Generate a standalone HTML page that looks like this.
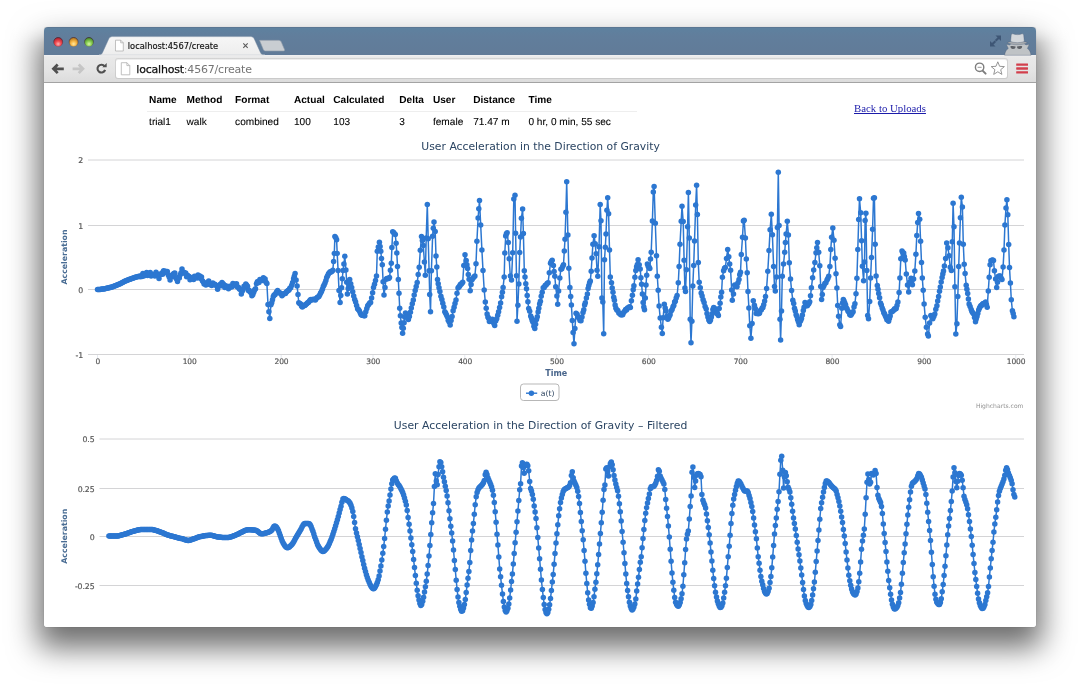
<!DOCTYPE html>
<html lang="en"><head><meta charset="utf-8"><title>localhost:4567/create</title>
<style>
html,body{margin:0;padding:0;background:#fff;}
body{width:1080px;height:688px;overflow:hidden;position:relative;font-family:"Liberation Sans", sans-serif;}
#win{position:absolute;left:44px;top:27px;width:992px;height:600px;background:#fff;border-radius:4px 4px 3px 3px;
 box-shadow:0 15px 30px 6px rgba(0,0,0,.57),0 0 1px rgba(0,0,0,.35);}
#clip{position:absolute;left:0;top:0;width:992px;height:600px;overflow:hidden;border-radius:4px 4px 3px 3px;}
#titlebar{position:absolute;left:0;top:0;width:992px;height:28px;background:linear-gradient(#5a728d 0,#5e819f 1.5px,#617e9c 8px,#617b98 100%);}
#toolbar{position:absolute;left:0;top:28px;width:992px;height:28px;background:linear-gradient(#f1f1f3 0,#e9e9e9 2px,#e4e4e4 60%,#dcdcdc 100%);border-bottom:1px solid #a3a3a3;box-sizing:border-box;}
#url{position:absolute;left:71.7px;top:3.8px;width:891.6px;height:19.4px;background:#fff;border-radius:2px;box-shadow:0 0 0 1px rgba(0,0,0,.09), inset 0 1px 0 rgba(0,0,0,.07);}
#urltext{position:absolute;left:20.6px;top:1.5px;font:11px/19px "DejaVu Sans", "Liberation Sans", sans-serif;color:#757575;white-space:nowrap;letter-spacing:-0.2px}
#urltext b{font-weight:normal;color:#111;-webkit-text-stroke:0.25px #111}
#tabtitle{position:absolute;left:83.8px;top:13.1px;font:8.3px/12px "DejaVu Sans", "Liberation Sans", sans-serif;color:#111;white-space:nowrap;-webkit-text-stroke:0.15px #111}
#page{position:absolute;left:0;top:56px;width:992px;height:544px;background:#fff;}
table{position:absolute;left:103.1px;top:7px;border-collapse:collapse;table-layout:fixed;width:490px;font:10.1px/14px "Liberation Sans", sans-serif;color:#0a0a0a;text-rendering:geometricPrecision}
th{font-weight:bold;text-align:left;padding:4.3px 0 2.7px 2px;border-bottom:1px solid #eeeeee;white-space:nowrap;color:#000}
td{padding:4.1px 0 3px 2px;white-space:nowrap;color:#000;-webkit-text-stroke:0.08px #000}
#back{position:absolute;left:810px;top:18px;font:10.8px/14px "Liberation Serif", serif;color:#1b1baa;text-decoration:underline;text-decoration-skip-ink:none;text-decoration-thickness:0.8px;white-space:nowrap}
svg text{font-family:"DejaVu Sans", "Liberation Sans", sans-serif;}
.lt{position:absolute;pointer-events:none}
#lt1{left:0;top:0;width:1080px;height:27px;background:rgba(255,255,255,.4)}
#lt2{left:0;top:27px;width:44px;height:16px;background:linear-gradient(rgba(255,255,255,.4),rgba(255,255,255,0))}
#lt3{left:1036px;top:27px;width:44px;height:16px;background:linear-gradient(rgba(255,255,255,.4),rgba(255,255,255,0))}
</style></head>
<body>
<div id="win"><div id="clip">
<div id="titlebar"></div>
<div id="toolbar"><div id="url"><div id="urltext"><b>localhost</b>:4567/create</div></div></div>

<svg width="992" height="56" viewBox="44 27 992 56" style="position:absolute;left:0;top:0;">
<defs>
<radialGradient id="rr" cx="50%" cy="72%" r="70%"><stop offset="0" stop-color="#ffb4b4"/><stop offset="0.45" stop-color="#f24a50"/><stop offset="1" stop-color="#a31f2d"/></radialGradient>
<radialGradient id="ry" cx="50%" cy="72%" r="70%"><stop offset="0" stop-color="#ffe9a0"/><stop offset="0.45" stop-color="#f7b643"/><stop offset="1" stop-color="#a9701c"/></radialGradient>
<radialGradient id="rg" cx="50%" cy="72%" r="70%"><stop offset="0" stop-color="#d8f7a8"/><stop offset="0.45" stop-color="#86cc50"/><stop offset="1" stop-color="#3f7d27"/></radialGradient>
<linearGradient id="rs" x1="0" y1="0" x2="0" y2="1"><stop offset="0" stop-color="#3a2030" stop-opacity=".75"/><stop offset="1" stop-color="#3a2030" stop-opacity=".15"/></linearGradient>
<linearGradient id="tabg" x1="0" y1="0" x2="0" y2="1"><stop offset="0" stop-color="#f6f6f6"/><stop offset="1" stop-color="#ededed"/></linearGradient>
</defs>
<!-- new tab button -->
<path d="M259.5 40.3 L279 40.3 Q280.5 40.3 281.2 41.8 L284.5 49.5 Q285 51 283.5 51 L265.5 51 Q264 51 263.3 49.5 Z" fill="#c9cdd2" stroke="#8f9aa8" stroke-width="0.6"/>
<!-- active tab -->
<path d="M99 55.2 C101 55 101.8 54 102.6 52.4 L108.6 39.2 C109.4 37.4 110.4 36.6 112.4 36.6 L250.6 36.6 C252.6 36.6 253.6 37.4 254.4 39.2 L260.4 52.4 C261.2 54 262 55 264 55.2 Z" fill="url(#tabg)" stroke="#7b8ea5" stroke-width="0.5"/>
<rect x="99" y="54.7" width="166" height="1.2" fill="#ededed"/>
<!-- traffic lights -->
<circle cx="58.2" cy="42" r="4.5" fill="url(#rr)" stroke="url(#rs)" stroke-width="0.9"/>
<circle cx="73.6" cy="42" r="4.5" fill="url(#ry)" stroke="url(#rs)" stroke-width="0.9"/>
<circle cx="89" cy="42" r="4.5" fill="url(#rg)" stroke="url(#rs)" stroke-width="0.9"/>
<!-- tab favicon (page) -->
<path d="M115.5 40.2 h5.2 l2.6 2.6 v8.2 h-7.8 z" fill="#fff" stroke="#a9a9a9" stroke-width="0.7"/>
<path d="M120.7 40.2 v2.6 h2.6" fill="none" stroke="#a9a9a9" stroke-width="0.7"/>
<!-- tab close -->
<path d="M243.3 43.4 l4.4 4.4 M247.7 43.4 l-4.4 4.4" stroke="#5a5a5a" stroke-width="1.1" fill="none"/>
<!-- fullscreen icon -->
<g fill="#3e5675">
<path d="M995.5 35.5 h5.5 v5.5 l-2 -2 l-2.6 2.6 l-1.5 -1.5 l2.6 -2.6 z"/>
<path d="M995.5 46.5 h-5.5 v-5.5 l2 2 l2.6 -2.6 l1.5 1.5 l-2.6 2.6 z"/>
</g>
<!-- incognito -->
<g stroke="#4c5f78" stroke-width="0.5" stroke-opacity=".7">
<path d="M1004.6 55.3 C1005 51.5 1006.5 49.6 1008.3 48.4 L1006.3 44.2 L1009.6 44.9 C1011.5 42 1024 42 1026 44.9 L1029.3 44.2 L1027.4 48.4 C1029.2 49.6 1030.6 51.5 1031 55.3 Z" fill="#bfc3c6"/>
<path d="M1007.4 42.6 C1010.5 40.4 1024.2 40.4 1027.4 42.6 C1024.5 45.4 1010.4 45.4 1007.4 42.6 Z" fill="#a9adb1"/>
<path d="M1010.6 41.6 L1011.2 35.2 C1011.4 33.9 1012.4 33.6 1013.5 34 C1015.5 34.8 1019.5 34.8 1021.4 34 C1022.5 33.6 1023.5 33.9 1023.7 35.2 L1024.3 41.6 C1020.5 43 1014.4 43 1010.6 41.6 Z" fill="#d3d7db"/>
</g>
<path d="M1010.4 46.3 C1012 45.9 1014.4 46 1015.6 46.6 C1015.6 48.4 1014.6 49 1013 49 C1011.4 49 1010.5 48 1010.4 46.3 Z M1017 46.6 C1018.2 46 1020.6 45.9 1022.2 46.3 C1022.1 48 1021.2 49 1019.6 49 C1018 49 1017 48.4 1017 46.6 Z" fill="#5d6167"/>
<!-- toolbar icons -->
<g fill="none" stroke-linecap="butt">
<path d="M63.8 68.8 H55 M57.7 64.5 L53.4 68.8 L57.7 73.1" stroke="#505050" stroke-width="2.7" stroke-linejoin="miter"/>
<path d="M72.6 68.8 H81.4 M78.7 64.5 L83 68.8 L78.7 73.1" stroke="#c6c6c6" stroke-width="2.7" stroke-linejoin="miter"/>
<path d="M104.6 66.4 A3.9 3.9 0 1 0 105.1 69.9" stroke="#505050" stroke-width="2.1"/>
<path d="M102.3 67.3 H106.7 V62.9 Z" fill="#505050" stroke="none"/>
</g>
<!-- url bar icons -->
<path d="M121.3 62.7 h5.6 l2.9 2.9 v9.2 h-8.5 z" fill="#fff" stroke="#b0b0b0" stroke-width="0.8"/>
<path d="M126.9 62.7 v2.9 h2.9" fill="none" stroke="#b0b0b0" stroke-width="0.8"/>
<circle cx="979.6" cy="67.3" r="4.2" fill="none" stroke="#7d7d7d" stroke-width="1.4"/>
<path d="M982.6 70.6 L985.6 73.6" stroke="#7d7d7d" stroke-width="2" stroke-linecap="round"/>
<path d="M977.6 67.3 h4" stroke="#9a9a9a" stroke-width="1"/>
<path d="M997.8 61.8 L999.6 66.3 L1004.4 66.6 L1000.7 69.7 L1001.9 74.4 L997.8 71.8 L993.7 74.4 L994.9 69.7 L991.2 66.6 L996 66.3 Z" fill="#fff" stroke="#8a8a8a" stroke-width="0.9" stroke-linejoin="round"/>
<!-- hamburger -->
<g fill="#d23f4c">
<rect x="1016.2" y="63.4" width="11.8" height="2.4" rx="0.4"/>
<rect x="1016.2" y="67.3" width="11.8" height="2.4" rx="0.4"/>
<rect x="1016.2" y="71.2" width="11.8" height="2.4" rx="0.4"/>
</g>
</svg>

<div id="tabtitle">localhost:4567/create</div>
<div id="page">
<table>
<colgroup><col style="width:37.4px"><col style="width:48.6px"><col style="width:58.9px"><col style="width:39.3px"><col style="width:66px"><col style="width:33.7px"><col style="width:40.2px"><col style="width:55.3px"><col style="width:110.6px"></colgroup>
<thead><tr><th>Name</th><th>Method</th><th>Format</th><th>Actual</th><th>Calculated</th><th>Delta</th><th>User</th><th>Distance</th><th>Time</th></tr></thead>
<tbody><tr><td>trial1</td><td>walk</td><td>combined</td><td>100</td><td>103</td><td>3</td><td>female</td><td>71.47 m</td><td>0 hr, 0 min, 55 sec</td></tr></tbody>
</table>
<a id="back" href="#">Back to Uploads</a>
</div>

<svg id="charts" width="1080" height="688" viewBox="0 0 1080 688" style="position:absolute;left:-44px;top:-27px;">
<defs>
<marker id="m" markerWidth="7" markerHeight="7" refX="3.5" refY="3.5" markerUnits="userSpaceOnUse"><circle cx="3.5" cy="3.5" r="2.75" fill="#2c77d1"/></marker>
</defs>
<g stroke="#d4d4d6" stroke-width="1">
<line x1="88" x2="1024" y1="160" y2="160"/><line x1="88" x2="1024" y1="225.5" y2="225.5"/><line x1="88" x2="1024" y1="289.5" y2="289.5"/><line x1="88" x2="1024" y1="354.5" y2="354.5"/>
<line x1="99.5" x2="1024" y1="439" y2="439"/><line x1="99.5" x2="1024" y1="488.5" y2="488.5"/><line x1="99.5" x2="1024" y1="536.5" y2="536.5"/><line x1="99.5" x2="1024" y1="585.5" y2="585.5"/>
</g>
<g stroke="#e6eaf0" stroke-width="1"><line x1="97.5" x2="97.5" y1="355" y2="358.5"/><line x1="189.3" x2="189.3" y1="355" y2="358.5"/><line x1="281.2" x2="281.2" y1="355" y2="358.5"/><line x1="373.0" x2="373.0" y1="355" y2="358.5"/><line x1="464.8" x2="464.8" y1="355" y2="358.5"/><line x1="556.6" x2="556.6" y1="355" y2="358.5"/><line x1="648.5" x2="648.5" y1="355" y2="358.5"/><line x1="740.3" x2="740.3" y1="355" y2="358.5"/><line x1="832.1" x2="832.1" y1="355" y2="358.5"/><line x1="924.0" x2="924.0" y1="355" y2="358.5"/><line x1="1015.8" x2="1015.8" y1="355" y2="358.5"/></g>
<text x="540.6" y="149.5" text-anchor="middle" font-size="10.8" fill="#2b4563">User Acceleration in the Direction of Gravity</text>
<text x="540.5" y="428.5" text-anchor="middle" font-size="10.8" textLength="293.5" fill="#2b4563">User Acceleration in the Direction of Gravity – Filtered</text>
<text transform="translate(66.7,257) rotate(-90)" text-anchor="middle" font-size="7.8" font-weight="bold" fill="#4a6d94">Acceleration</text>
<text transform="translate(66.7,536.2) rotate(-90)" text-anchor="middle" font-size="7.8" font-weight="bold" fill="#4a6d94">Acceleration</text>
<text x="83" y="163" text-anchor="end" font-size="7.8" letter-spacing="-0.1" fill="#585858" stroke="#585858" stroke-width="0.2">2</text><text x="83" y="228.5" text-anchor="end" font-size="7.8" letter-spacing="-0.1" fill="#585858" stroke="#585858" stroke-width="0.2">1</text><text x="83" y="292.5" text-anchor="end" font-size="7.8" letter-spacing="-0.1" fill="#585858" stroke="#585858" stroke-width="0.2">0</text><text x="83" y="357.5" text-anchor="end" font-size="7.8" letter-spacing="-0.1" fill="#585858" stroke="#585858" stroke-width="0.2">-1</text>
<text x="94.6" y="442" text-anchor="end" font-size="7.8" letter-spacing="-0.1" fill="#585858" stroke="#585858" stroke-width="0.2">0.5</text><text x="94.6" y="491.5" text-anchor="end" font-size="7.8" letter-spacing="-0.1" fill="#585858" stroke="#585858" stroke-width="0.2">0.25</text><text x="94.6" y="539.5" text-anchor="end" font-size="7.8" letter-spacing="-0.1" fill="#585858" stroke="#585858" stroke-width="0.2">0</text><text x="94.6" y="588.5" text-anchor="end" font-size="7.8" letter-spacing="-0.1" fill="#585858" stroke="#585858" stroke-width="0.2">-0.25</text>
<text x="97.8" y="364.1" text-anchor="middle" font-size="7.5" letter-spacing="-0.15" fill="#585858" stroke="#585858" stroke-width="0.2">0</text><text x="189.6" y="364.1" text-anchor="middle" font-size="7.5" letter-spacing="-0.15" fill="#585858" stroke="#585858" stroke-width="0.2">100</text><text x="281.5" y="364.1" text-anchor="middle" font-size="7.5" letter-spacing="-0.15" fill="#585858" stroke="#585858" stroke-width="0.2">200</text><text x="373.3" y="364.1" text-anchor="middle" font-size="7.5" letter-spacing="-0.15" fill="#585858" stroke="#585858" stroke-width="0.2">300</text><text x="465.1" y="364.1" text-anchor="middle" font-size="7.5" letter-spacing="-0.15" fill="#585858" stroke="#585858" stroke-width="0.2">400</text><text x="556.9" y="364.1" text-anchor="middle" font-size="7.5" letter-spacing="-0.15" fill="#585858" stroke="#585858" stroke-width="0.2">500</text><text x="648.8" y="364.1" text-anchor="middle" font-size="7.5" letter-spacing="-0.15" fill="#585858" stroke="#585858" stroke-width="0.2">600</text><text x="740.6" y="364.1" text-anchor="middle" font-size="7.5" letter-spacing="-0.15" fill="#585858" stroke="#585858" stroke-width="0.2">700</text><text x="832.4" y="364.1" text-anchor="middle" font-size="7.5" letter-spacing="-0.15" fill="#585858" stroke="#585858" stroke-width="0.2">800</text><text x="924.3" y="364.1" text-anchor="middle" font-size="7.5" letter-spacing="-0.15" fill="#585858" stroke="#585858" stroke-width="0.2">900</text><text x="1016.1" y="364.1" text-anchor="middle" font-size="7.5" letter-spacing="-0.15" fill="#585858" stroke="#585858" stroke-width="0.2">1000</text>
<text x="556.3" y="375.9" text-anchor="middle" font-size="8" font-weight="bold" fill="#48658b">Time</text>
<rect x="520.5" y="384" width="38.5" height="16.5" rx="3" ry="3" fill="#fff" stroke="#a4a4a4" stroke-width="0.8"/>
<line x1="526" x2="537.2" y1="393.2" y2="393.2" stroke="#2c77d1" stroke-width="1.4"/>
<circle cx="531.4" cy="393.2" r="2.7" fill="#2c77d1"/>
<text x="540.8" y="396" font-size="7.7" fill="#2f4560">a(t)</text>
<text x="1023.5" y="408" text-anchor="end" font-size="6.05" fill="#909090">Highcharts.com</text>
<polyline points="97.5,289.6 98.2,289.6 99.1,289.5 100.1,289.4 101,289.3 102,289.1 102.9,289 103.9,288.9 104.8,288.8 105.8,288.6 106.7,288.3 107.6,288.1 108.5,287.9 109.5,287.6 110.4,287.4 111.3,287.1 112.3,286.9 113.2,286.5 114.1,286.2 115,285.8 116,285.4 116.9,285 117.8,284.7 118.7,284.3 119.7,283.9 120.6,283.5 121.5,283 122.5,282.5 123.4,282.1 124.3,281.6 125.2,281.1 126.2,280.7 127.1,280.2 128,279.9 128.9,279.6 129.9,279.2 130.8,278.9 131.7,278.6 132.7,278.2 133.6,277.9 134.5,277.6 135.4,277.3 136.4,277 137.3,276.8 138.2,276.5 139.1,276.3 140.1,276.7 141,275.8 141.9,276.4 142.9,273.4 143.8,276 144.7,274.8 145.6,275 146.6,272.5 147.5,275.4 148.4,273.7 149.3,273.8 150.2,272.4 151.1,276.1 152,274.6 152.9,275.3 153.8,274.5 154.9,276.1 156,272.2 157,273.9 158,274.4 159,278.4 159.9,274.5 160.8,274.4 161.8,273 162.7,274.2 163.6,270.8 164.6,271.8 165.5,271.2 166.4,272.5 167.3,271.4 168.3,275.1 169.2,276.9 170.1,279.9 171,275.5 172,276.4 172.9,274.5 173.8,273.6 174.8,273 175.7,277.8 176.6,279.1 177.5,281.4 178.4,277.2 179.3,278.1 180.2,274.8 181.1,272.8 182,269.1 182.9,273.1 183.8,272.2 184.8,273.2 185.7,273.1 186.6,276.7 187.4,275.2 188.3,276.3 189.2,276.5 190,279.7 190.9,277.8 191.8,278.2 192.7,277.7 193.6,279.5 194.5,276.3 195.3,277.2 196.2,276.9 197.1,278.1 198,274.9 198.9,276.2 199.8,275.9 200.7,278.4 201.5,277.1 202.4,280.7 203.3,282 204.1,283.9 205,283 205.9,284.9 206.8,283.8 207.8,283.4 208.7,280.9 209.7,284.6 210.7,284.6 211.7,285.5 212.8,282.9 213.9,284.6 214.8,284.2 215.7,285.2 216.7,285.5 217.6,289.2 218.5,286.3 219.4,285.5 220.3,284.3 221.2,285.7 222,282.4 223,283.8 223.9,284.7 224.8,287.5 225.8,285.8 226.7,286.9 227.6,287.3 228.5,288.8 229.5,286.3 230.3,287.1 231.2,286.7 232.1,286.8 232.9,283.6 233.8,284.9 234.7,284.3 235.6,285.3 236.5,283.8 237.4,286.9 238.4,287.3 239.4,289.1 240.3,289.4 241.3,293.9 242.2,291.3 243.1,289.2 244,286.2 244.9,287 245.8,284 246.6,285.3 247.5,286.3 248.3,290.4 249.2,290.3 250,291.8 251,292.7 251.9,295.7 252.9,294.5 253.8,292.1 254.7,289.7 255.5,288.7 256.4,283.7 257.3,281.7 258.1,281.8 259,282.4 259.9,279.5 260.8,280.1 261.6,280.2 262.5,280.4 263.4,277.8 264.2,279.1 265.1,279.1 266,282.3 266.9,283.6 268,304.5 268.9,311.7 269.8,318.6 270.9,304.8 271.7,302.8 272.5,299.7 273.3,296.5 274.1,295 275,294.8 275.9,293.2 276.7,291.8 277.6,290.5 278.5,292.2 279.4,292.5 280.2,293.2 281.1,294.1 282,295.7 282.8,294.4 283.7,293.8 284.6,293.4 285.5,293.4 286.3,291.9 287.2,291.2 288.1,290.6 289,290.1 289.8,288.3 290.7,287.8 291.7,285.2 292.6,282.4 293.6,278.7 294.3,276.3 295.1,273.6 296.1,280.1 297.1,285.9 298,294.6 298.8,302.7 299.7,303.5 300.6,304.1 301.5,306 302.3,307 303.2,306.1 304.1,305.2 304.9,305.5 305.8,304.6 306.7,303.7 307.6,302.7 308.4,302.6 309.3,301.3 310.2,300.1 311,299.4 311.9,300 312.8,299.4 313.7,299.2 314.5,299.6 315.4,300 316.3,298.4 317.2,297.5 318,297.1 318.9,296.4 319.8,294.8 320.6,293 321.5,291.4 322.4,289.3 323.3,286.6 324.1,285 325,283 325.9,280.4 326.7,277.6 327.6,275.8 328.5,273.7 329.4,272.7 330.2,271.8 331.1,271.9 332,271.3 332.8,270.3 333.6,261.4 334.3,253.4 334.9,236.4 335.8,237.8 336.6,239.7 337.2,253.4 338.1,270.5 339,290.5 340.1,302.4 340.8,295.6 341.6,287.8 342.3,278.8 343,270.5 343.9,263.9 344.8,256.3 345.9,270.1 346.7,282.3 347.4,294 348.2,288.6 348.9,283.8 349.7,279.5 350.7,283.7 351.7,287.5 352.7,291.7 353.7,296 354.7,299.6 355.6,302 356.6,305.4 357.6,308.7 358.4,309.6 359.3,310.8 360.2,312.8 361,314.4 361.9,315.3 362.9,315.2 363.9,315.8 364.8,315.8 365.8,311.8 366.8,308.6 367.7,305.7 368.7,304.5 369.7,303 370.6,302.4 371.6,298 372.6,292.8 373.5,287.5 374.5,284.2 375.5,280.5 376.5,276.1 377.3,251.2 378.3,247.1 379.4,242.2 380.1,246.5 380.8,251.3 381.5,258.5 382.3,264.8 383.1,281.8 384,295 385,287.6 386,279.2 386.9,278.5 387.8,278.4 388.7,278.6 389.5,277.6 390.4,270.2 391.3,263.3 391.9,247.6 392.7,231.8 393.6,232.5 394.5,233.7 395.3,234.5 396.1,243.2 396.8,252.9 397.5,266.4 398.3,279.4 399,293.2 399.7,308.3 400.4,315.8 401.2,322.9 401.9,327.4 402.6,333.2 403.3,328.2 404.1,322.7 404.8,317.3 405.5,313 406.5,315.2 407.5,317.3 408.4,319.5 409.4,316.5 410.4,312.2 411.3,308 412.3,303.7 413.3,300 414.2,295.1 415.2,290.5 416.2,286.4 417.2,282.6 418.2,274.6 419.2,267.3 420.3,250.2 421.5,236.6 422.4,240.6 423.3,245.6 424.4,261.9 425.3,275.2 426.2,238 427.3,204.4 428.2,238.7 429.1,270.7 429.7,294.6 430.5,311.8 431.4,270.7 432.6,236.3 433.3,228.3 434,221.9 435.2,231.4 436,255.9 436.8,267 437.5,279.6 438.2,283.7 439,287.8 439.9,291.4 440.9,296.2 441.9,299.6 442.8,303.2 443.8,307 444.8,311.7 445.6,313 446.4,314.8 447.3,316.8 448.2,320.3 449.2,322.1 450.2,324.9 451.1,320.4 452.1,316.4 453.1,310.7 454.1,307.2 455,303.5 456,300 457,293.2 458,287.9 458.8,287.1 459.6,286.3 460.3,284.4 461.1,284.2 461.9,283.3 462.7,282.3 463.8,265.5 465,254.8 466.2,260.5 466.9,264.7 467.6,268.4 468.3,274.5 469.1,279.3 470.2,290.8 471.1,284.5 472,279.7 472.9,278.2 473.9,277.1 474.9,275.9 476,263.8 476.9,241.2 478.1,218 478.8,208.8 479.5,200.5 480.7,225.1 481.9,250 483,270.4 484.2,290 485.3,302 486.2,308.2 487.1,314.1 487.9,317 488.6,318.3 489.4,321.4 490.4,321 491.4,320.8 492.3,319.2 493.1,321.8 493.9,323.5 494.7,325.4 495.7,321.1 496.7,318.8 497.7,315.2 498.6,311.8 499.6,307.6 500.6,302.9 501.6,296.7 502.4,292.3 503.1,287.4 504.2,276.9 504.8,253 505.7,236.1 506.4,233.7 507.2,232.8 508.3,242.6 509.2,258.7 510.3,276 511.5,279.9 512.7,252.7 513.8,199.1 515,195.3 515.6,233.3 516.5,275.8 517,321.3 517.9,305.3 518.8,284.1 519.7,252.4 520.5,237.1 521.4,218.2 522.6,209 523.4,233.4 524.3,270.7 525,277.1 525.8,283.8 526.5,288.7 527.2,295.6 527.9,301.8 528.7,308.4 529.7,311.2 530.7,316 531.5,318 532.2,320.4 533,322.2 533.9,326.3 534.8,328.5 535.6,324.2 536.5,319.4 537.3,316.7 538.1,311.9 538.8,308.2 539.6,304.1 540.4,301.2 541.2,296.2 542.2,292.2 543.2,287.7 544.2,287.6 545.1,285.4 546.1,285 547.1,283.5 548.1,282.7 549.3,272.7 550.5,263.3 551.3,261.5 552.2,260.2 553.4,265.4 554.1,271.5 554.8,276.3 555.7,286.8 556.9,295.9 557.7,304.3 558.6,290.9 559.8,277.9 560.9,269.2 561.8,268.7 562.7,266.4 563.5,264.7 564.3,251 565,239.2 565.9,212.2 566.7,181.8 567.9,235.1 568.8,268.3 569.9,287.6 570.7,296.6 571.4,305 572.3,320.6 573.1,332.5 574,343.7 574.9,328.4 576,313.3 577.1,314.2 578.1,317 579.1,318.3 580,320.5 581,320.7 582,317.1 583,312.6 583.8,309.7 584.6,305.1 585.3,302.7 586.4,298.1 587.4,294.1 588.1,288.6 588.8,285.4 589.6,282.8 590.3,280.9 591.2,271.2 592,258 592.9,244.3 594.1,235.7 595.2,243.7 596.1,253.7 597,270.3 597.8,276.3 599,246.7 600.2,204.4 601,220.7 601.9,298.1 602.8,302.1 603.7,333.7 604.5,259.8 605.3,247.2 606,233.9 606.9,210.2 607.7,197.8 608.6,213.8 609.5,250 610.3,276.9 611.5,282.8 612.2,288.1 613,292.2 613.7,297.2 614.4,300.2 615.1,304.9 615.9,308.3 616.8,310.1 617.8,310.4 618.8,313.1 619.7,313.6 620.7,314.8 621.7,314.8 622.7,314.7 623.6,312.5 624.6,311.3 625.6,309.5 626.5,309.9 627.5,308.1 628.5,307.8 629.4,306.7 630.4,307.6 631.4,300.7 632.4,295.2 633.2,289.7 633.9,285.8 634.9,277.3 635.8,270.5 636.6,266.8 637.4,264.4 638.1,259.7 639.2,264.7 640.2,268.9 640.9,277.7 641.6,284.3 642.4,293.9 643.1,302.4 643.8,307.1 644.5,309.8 645.3,298.1 646,285 646.7,275.2 647.4,263.9 648.2,266.3 649,267 649.8,268.4 650.5,259.1 651.2,252.2 652.4,221 653.3,192.1 654.1,186.4 655.3,223.2 656.5,255.8 657.3,276.3 658.2,290.3 659.1,306.1 660.2,318.1 661.4,327.2 662.3,333.4 663.1,317.8 664.3,304.3 665.2,308 666,310.9 666.9,316.3 667.8,319.3 668.6,318 669.3,315.9 670.1,314.7 671.1,310.9 672.1,309.4 673,306.8 673.8,305.4 674.6,302.1 675.3,301.3 676.2,298.1 677.1,295.6 678.3,282.7 679.1,266.6 680,244.3 681.2,221.3 682,206.3 683.2,221.6 684.1,260.2 684.9,288 685.5,291.6 686.4,269.7 687.6,226.7 688.4,192.6 689.3,237.9 690.2,319.2 691,342.8 691.9,321.3 692.8,286 693.7,265.4 694.5,240.9 695.7,205.1 696.6,185.3 697.4,214.5 698.3,262.6 699.2,282.2 700.3,287.8 701.2,292.9 702.1,295.9 703.1,299.7 704.1,302.4 705.1,306.6 706.2,308.9 707,313.6 707.9,317 708.8,320 709.7,321.4 710.5,320 711.4,317 712.2,313.8 712.9,309.4 713.7,307.4 714.5,308.2 715.3,309.8 716,310.5 716.8,313.3 717.6,313.9 718.4,315.6 719.2,308.4 720.1,303.2 720.8,297.1 721.6,292.3 722.4,277.3 723.6,270.7 724.5,268.3 725.3,267.6 726.5,258.6 727.7,249.4 728.8,256.8 729.7,264 730.6,270.3 731.7,290 732.3,300.3 733.5,293.9 734.7,285 735.4,286 736.2,285.2 737,286.7 738,282.8 739,279.6 739.7,274.8 740.5,272.3 741.3,254.5 742.5,237.3 743.4,220.9 744.2,220.2 745.4,237.9 746.3,259 747.2,272.7 748,291.5 748.9,308.1 749.8,325.7 750.9,338.2 752.1,323.5 753.3,300.7 754.4,305.3 755.3,308.6 756.2,313.4 756.9,312.7 757.7,313.6 758.5,313.8 759.5,313.3 760.4,310.6 761.4,309.7 762.2,308.1 762.9,307.4 763.7,304.7 764.6,301.1 765.5,296.6 766.6,288.4 767.8,271.2 769,250.4 770.1,229.8 771.3,214.2 772.4,234.8 773.6,266.5 774.5,286.5 775.3,291 776.5,277 777.4,227.4 778.3,172.2 779.1,225.5 780,319.3 780.6,340 781.5,311.1 782.3,276.3 783.5,264.1 784.7,252.3 785.4,242.6 786.1,234.1 787.3,221.3 788.4,234.9 789.3,262.8 790.5,279.1 791.6,290.6 792.8,300.2 793.7,303.4 794.5,308.2 795.3,311.1 796.1,314.7 796.9,316.4 797.6,319.5 798.4,321.8 799.2,324.7 800,321.6 800.7,320.6 801.5,318.5 802.4,315.1 803.3,310.4 804.1,307.2 805,302.5 805.8,303.6 806.6,303.7 807.3,305.8 808.1,304.4 808.9,303.5 809.7,301.8 810.5,295.8 811.4,287.8 812.6,277.7 813.7,270 814.9,262.4 816,252.8 816.8,247.8 817.5,242.5 818.7,252.3 819.8,265.8 820.7,286.4 821.6,299.4 822.3,294.4 823,287.4 823.9,285.7 824.8,283.5 825.9,282.7 827,280.1 827.8,278.5 828.7,276.3 829.9,266.6 830.8,249.5 831.6,237.2 832.8,227.9 834,240.3 835.1,258.2 836,273.7 836.9,288 837.7,305.5 838.6,316.3 839.8,324.7 840.6,326.6 841.8,308.3 842.5,303 843.3,299.5 844,301.1 844.8,303.1 845.6,304.9 846.4,307.9 847.1,309.1 847.9,311 848.9,312.3 849.8,314.7 850.8,315.2 851.6,313.9 852.4,312.5 853.1,311.8 854,307.1 854.9,303.8 856,293.7 856.9,278.3 857.8,249.6 858.7,219.6 859.5,198.8 860.7,212.7 861.6,240.8 862.4,266.2 863.6,280.8 864.5,262 865.1,220.4 865.9,213.2 866.8,270.6 867.7,315.6 868.5,318.7 869.7,301.4 870.6,277.9 871.5,257.4 872.6,229.3 873.5,198.3 874.4,197.8 875.2,244.2 876.1,275.9 877.3,285.6 878,289.3 878.7,293.5 879.6,297.8 880.5,303 881.3,305.1 882.2,308.1 883,310.1 883.8,312.7 884.5,313.7 885.3,315.7 886.1,317.6 886.9,319.8 887.7,319.8 888.6,321.3 889.4,318.6 890.2,315.9 890.9,312.1 891.9,311.7 892.9,310.9 893.8,309.9 894.6,308.7 895.4,308.9 896.2,308.5 897,305.4 897.9,301.9 899.1,292.6 899.9,277.9 900.8,258.8 902,251.1 902.8,252.7 903.7,253.1 904.4,256.5 905.2,260 906.3,273.9 907.5,285 908.7,292 909.8,281.9 911,278.3 911.7,281.2 912.4,284.7 913.6,279.1 914.8,271 915.9,254.2 916.8,235.4 917.7,222.6 918.5,213.6 919.7,219.2 920.6,241.3 921.5,262.5 922.3,278 923.2,290.3 924.1,303.9 925.2,317.3 926.4,327.3 927.6,333.9 928.4,336 929.6,323.1 930.8,315.5 931.8,316.5 932.8,318.7 933.8,316.5 934.8,313.9 935.8,309.3 936.9,305.7 937.7,301.1 938.6,296.4 939.5,291.3 940.3,286.9 941.2,282.1 942.1,277.4 942.8,274 943.5,270.9 944.4,266 945.6,258.5 946.7,242.9 947.9,247.7 949.1,255.7 950.2,267.3 951.4,270.6 952.3,241.8 953.1,203.3 954,226.7 954.9,286.7 955.8,334.1 956.9,323.8 957.8,296.6 958.7,266.4 959.5,243 960.4,217.7 961.3,197.3 962.4,206.9 963.3,244.3 964.2,264.2 965.1,273.6 966.2,285.3 966.9,289.2 967.7,293.4 968.4,299.1 969.1,304.1 970.1,306.5 971.2,309.5 971.9,311.6 972.7,312.7 973.5,313.7 974.5,317.6 975.5,321.8 976.2,319.1 977,316.6 977.8,313.4 978.7,310.1 979.5,308.1 980.3,306.5 981,305.6 981.8,305.2 982.6,304.1 983.4,303.6 984.1,303.7 984.9,303.1 985.7,302.1 986.4,304.5 987.2,307.2 988.3,290.9 989.2,277.3 990.1,264.7 990.9,260.7 991.8,260.2 992.7,259.9 993.5,260.4 994.4,270.8 995.6,278.9 996.7,287.6 997.5,282.3 998.2,276.6 999.2,275.9 1000.2,276.1 1001.1,278.1 1002,279.4 1003.1,267.1 1004,250.1 1004.9,224.9 1006,208 1006.9,199.7 1007.8,214.8 1008.7,244.6 1009.5,267.5 1010.4,283.1 1011.3,299.8 1012.4,310.8 1013.2,313.6 1013.9,316.7" fill="none" stroke="#2c77d1" stroke-width="1.5" stroke-linejoin="round" marker-start="url(#m)" marker-mid="url(#m)" marker-end="url(#m)"/>
<polyline points="108.9,536.1 109.8,536.1 110.7,536.1 111.6,536.1 112.5,536.1 113.4,536.1 114.3,536.1 115.2,536.1 116.2,536.1 117.1,536.1 118,536 118.9,535.8 119.8,535.6 120.7,535.3 121.6,535.1 122.5,534.8 123.4,534.5 124.3,534.2 125.2,534 126.1,533.7 127,533.4 127.9,533.1 128.8,532.7 129.8,532.4 130.7,532.1 131.6,531.8 132.5,531.5 133.4,531.2 134.3,531 135.2,530.7 136.1,530.5 137,530.3 137.9,530 138.8,529.8 139.7,529.7 140.6,529.5 141.5,529.4 142.5,529.4 143.4,529.4 144.3,529.4 145.2,529.4 146.1,529.4 147,529.4 147.9,529.4 148.8,529.4 149.7,529.4 150.6,529.4 151.5,529.4 152.4,529.5 153.3,529.7 154.2,529.9 155.1,530.2 156.1,530.4 157,530.8 157.9,531.1 158.8,531.4 159.7,531.7 160.6,532 161.5,532.4 162.4,532.7 163.3,533.1 164.2,533.5 165.1,533.9 166,534.3 166.9,534.7 167.8,535 168.7,535.3 169.7,535.6 170.6,535.9 171.5,536.1 172.4,536.3 173.3,536.6 174.2,536.8 175.1,537 176,537.3 176.9,537.5 177.8,537.7 178.7,537.9 179.6,538.2 180.5,538.4 181.4,538.6 182.4,538.8 183.3,539.1 184.2,539.4 185.1,539.7 186,540 186.9,540.3 187.8,540.4 188.7,540.4 189.6,540.3 190.5,540 191.4,539.7 192.3,539.3 193.2,539 194.1,538.7 195,538.4 196,538 196.9,537.7 197.8,537.3 198.7,537.1 199.6,536.8 200.5,536.6 201.4,536.4 202.3,536.2 203.2,536 204.1,535.8 205,535.7 205.9,535.6 206.8,535.5 207.7,535.4 208.6,535.3 209.6,535.3 210.5,535.2 211.4,535.3 212.3,535.4 213.2,535.7 214.1,535.9 215,536.3 215.9,536.5 216.8,536.8 217.7,537 218.6,537.1 219.5,537.1 220.4,537.2 221.3,537.3 222.2,537.4 223.2,537.4 224.1,537.5 225,537.5 225.9,537.6 226.8,537.6 227.7,537.5 228.6,537.4 229.5,537.2 230.4,537 231.3,536.7 232.2,536.4 233.1,536 234,535.7 234.9,535.4 235.9,535 236.8,534.6 237.7,534.2 238.6,533.7 239.5,533.2 240.4,532.7 241.3,532.3 242.2,531.9 243.1,531.4 244,531 244.9,530.6 245.8,530.2 246.7,529.9 247.6,529.8 248.5,529.7 249.5,529.7 250.4,529.8 251.3,529.8 252.2,529.9 253.1,530 254,530.1 254.9,530.2 255.8,530.3 256.7,530.7 257.6,531.3 258.5,532.1 259.4,532.8 260.3,533.4 261.2,533.8 262.1,533.8 263.1,533.7 264,533.5 264.9,533.3 265.8,533.1 266.7,532.8 267.6,532.5 268.5,532.2 269.4,531.8 270.3,531.3 271.2,530.7 272.1,529.8 273,528 273.9,526.4 274.8,526 275.8,526.6 276.7,527.6 277.6,528.9 278.5,530.8 279.4,533.3 280.3,535.8 281.2,538.2 282.1,540.7 283,542.8 283.9,544.3 284.8,545.7 285.7,546.8 286.6,547.6 287.5,547.7 288.4,547.4 289.4,546.9 290.3,546.1 291.2,545.3 292.1,544.3 293,543 293.9,541.4 294.8,539.7 295.7,538.1 296.6,536.5 297.5,535 298.4,533.5 299.3,532 300.2,530.5 301.1,528.9 302,527 303,525.3 303.9,524.1 304.8,523.6 305.7,523.6 306.6,523.6 307.5,523.6 308.4,523.6 309.3,523.7 310.2,524.7 311.1,526.6 312,529 312.9,531.2 313.8,534 314.7,536.9 315.7,539.5 316.6,542.1 317.5,544.4 318.4,546.3 319.3,547.7 320.2,549.1 321.1,550.3 322,551.1 322.9,551.5 323.8,551.3 324.7,550.6 325.6,549.6 326.5,548.5 327.4,547.2 328.3,545.7 329.3,543.7 330.2,541.6 331.1,539.4 332,537 332.9,534.3 333.8,531.5 334.7,528.7 335.6,525.8 336.5,522.8 337.4,519.8 338.3,516.6 339.2,513.1 340.1,509.6 341,506.2 341.9,502.3 342.9,499 343.8,498.4 344.7,498.7 345.6,499.3 346.5,499.9 347.4,500.5 348.3,501.1 349.2,502 350.1,503.2 351,505.2 351.9,507.9 352.8,511.6 353.7,516.6 354.6,522.6 355.5,528.7 356.5,533 357.4,536.7 358.3,540.6 359.2,544.6 360.1,548.5 361,552.6 361.9,556.7 362.8,560.6 363.7,564.5 364.6,568.2 365.5,571.6 366.4,574.7 367.3,577.6 368.2,580.1 369.2,582.3 370.1,584.4 371,586.3 371.9,587.5 372.8,588.4 373.7,588.7 374.6,587.9 375.5,586.4 376.4,584.7 377.3,582.5 378.2,579.8 379.1,575.9 380,571 380.9,565.9 381.8,560.1 382.8,553.3 383.7,546.6 384.6,538.6 385.5,529.3 386.4,520.3 387.3,512 388.2,506 389.1,501 390,495 390.9,488.9 391.8,483.7 392.7,480.1 393.6,478.9 394.5,478.1 395.4,478.3 396.4,481 397.3,483 398.2,484.4 399.1,485.6 400,487.1 400.9,488.7 401.8,490.5 402.7,492.6 403.6,495.1 404.5,498.1 405.4,501.3 406.3,505 407.2,510.4 408.1,517.5 409.1,524.3 410,531.1 410.9,537.9 411.8,544.7 412.7,551.6 413.6,559.6 414.5,567.6 415.4,575.6 416.3,583.3 417.2,590.3 418.1,595.8 419,600 419.9,603.5 420.8,605.6 421.7,604.4 422.7,601.2 423.6,597.2 424.5,592 425.4,586.8 426.3,581.3 427.2,574.1 428.1,565.5 429,556.1 429.9,545.5 430.8,534.5 431.7,522.7 432.6,512.8 433.5,503.5 434.4,486.6 435.3,473.8 436.3,480.9 437.2,484.7 438.1,474.4 439,466.7 439.9,461.8 440.8,462.6 441.7,466.7 442.6,471.7 443.5,477.3 444.4,481.8 445.3,486.2 446.2,490.6 447.1,496.1 448,502.8 449,510.7 449.9,518.8 450.8,526.2 451.7,533 452.6,541 453.5,550 454.4,560.5 455.3,569.6 456.2,580.2 457.1,589.4 458,596.9 458.9,602.5 459.8,606.2 460.7,609.3 461.6,611.3 462.6,610.7 463.5,608 464.4,604.4 465.3,599.4 466.2,592.5 467.1,585 468,578.2 468.9,571.4 469.8,562.5 470.7,550.4 471.6,539.9 472.5,531 473.4,523.4 474.3,514.2 475.2,504.7 476.2,496.8 477.1,492.6 478,489.7 478.9,487.9 479.8,486.9 480.7,486.2 481.6,485.3 482.5,484.2 483.4,482.8 484.3,480.4 485.2,474.8 486.1,472.2 487,474.5 487.9,477.7 488.8,480 489.8,482.2 490.7,484.6 491.6,487.1 492.5,490.2 493.4,495.3 494.3,502.6 495.2,511.8 496.1,522.3 497,534.3 497.9,545 498.8,557.1 499.7,568.9 500.6,576.7 501.5,585.3 502.5,594 503.4,601.4 504.3,606.9 505.2,610.4 506.1,612 507,610.7 507.9,608.2 508.8,603.9 509.7,597.9 510.6,590 511.5,581.6 512.4,573.9 513.3,564.1 514.2,553.4 515.1,542.8 516.1,532.2 517,521.7 517.9,511.1 518.8,500.5 519.7,489.8 520.6,483.7 521.5,466.1 522.4,462.7 523.3,467.7 524.2,473.2 525.1,465.2 526,464.5 526.9,464.3 527.8,465.7 528.7,470.7 529.7,481.6 530.6,488.6 531.5,491.1 532.4,494.4 533.3,499.2 534.2,505.9 535.1,511.9 536,518.5 536.9,527.8 537.8,537.5 538.7,548.1 539.6,558.7 540.5,569.3 541.4,580.1 542.4,589.5 543.3,597.5 544.2,604.4 545.1,609.6 546,612.4 546.9,613.7 547.8,612.4 548.7,609.2 549.6,604.7 550.5,598.5 551.4,590.6 552.3,582.1 553.2,574.4 554.1,564.2 555,553.6 556,542.9 556.9,533.8 557.8,524.7 558.7,515.7 559.6,508.7 560.5,502.6 561.4,497.9 562.3,494.4 563.2,491.6 564.1,489.7 565,488.9 565.9,488.5 566.8,488 567.7,487.5 568.6,486.9 569.6,485.5 570.5,482.8 571.4,475.5 572.3,471.8 573.2,477.8 574.1,481.2 575,483.2 575.9,485.3 576.8,487.6 577.7,491.3 578.6,496.6 579.5,503.6 580.4,512.6 581.3,521.6 582.2,530.7 583.2,539.8 584.1,550.5 585,561.2 585.9,573.2 586.8,583.4 587.7,592.7 588.6,600 589.5,604.3 590.4,607.7 591.3,608.2 592.2,606.1 593.1,602.5 594,596.7 594.9,589.2 595.9,582.2 596.8,573.8 597.7,564.8 598.6,554.5 599.5,543.9 600.4,533.4 601.3,522.8 602.2,512.2 603.1,500.2 604,489.6 604.9,484.9 605.8,469.1 606.7,467.8 607.6,472.1 608.5,476 609.5,466.8 610.4,463.4 611.3,462 612.2,464.8 613.1,469.8 614,475.6 614.9,480.1 615.8,483.9 616.7,487.4 617.6,490.8 618.5,496.3 619.4,503.7 620.3,511.8 621.2,521 622.1,531.6 623.1,542.2 624,552.8 624.9,563.4 625.8,574.1 626.7,583.6 627.6,590.5 628.5,596.7 629.4,602.2 630.3,606 631.2,608.6 632.1,610 633,609.1 633.9,607.1 634.8,604 635.8,598.9 636.7,591.1 637.6,583.9 638.5,577.2 639.4,569.6 640.3,562.2 641.2,556.7 642.1,547.7 643,538.6 643.9,529.5 644.8,520.6 645.7,513.3 646.6,507.7 647.5,503 648.4,498.5 649.4,494 650.3,488.7 651.2,486.7 652.1,486.7 653,486.7 653.9,486.3 654.8,485 655.7,483.3 656.6,480.4 657.5,476.2 658.4,469.7 659.3,471.2 660.2,475.9 661.1,478.3 662,480 663,482 663.9,484.1 664.8,489.4 665.7,499.6 666.6,508.3 667.5,516.4 668.4,525.9 669.3,537 670.2,549.2 671.1,561.3 672,572.9 672.9,582.3 673.8,590.2 674.7,597.6 675.6,602.3 676.6,604.6 677.5,605.8 678.4,606.2 679.3,604.8 680.2,602.4 681.1,598.7 682,593.8 682.9,586.3 683.8,574.8 684.7,562.7 685.6,549.6 686.5,539 687.4,534.2 688.3,531.1 689.3,518.9 690.2,506.5 691.1,496.1 692,472.2 692.9,466.9 693.8,477.2 694.7,487.6 695.6,480.9 696.5,475.3 697.4,473.8 698.3,473.6 699.2,473.9 700.1,474.5 701,476.8 701.9,494.4 702.9,500.3 703.8,503.1 704.7,505.1 705.6,508 706.5,514.1 707.4,520.8 708.3,527.6 709.2,534.7 710.1,542.9 711,552.1 711.9,561.1 712.8,570.3 713.7,578.5 714.6,585.8 715.5,592.3 716.5,597.1 717.4,600.9 718.3,603.8 719.2,605.9 720.1,607.5 721,607.3 721.9,605.7 722.8,603.1 723.7,598.1 724.6,592.3 725.5,585.7 726.4,578.2 727.3,567.4 728.2,556.8 729.2,546.2 730.1,535.2 731,523.4 731.9,513.4 732.8,505.2 733.7,499 734.6,494.4 735.5,490.2 736.4,486.4 737.3,483.3 738.2,481 739.1,481.2 740,482.5 740.9,484 741.8,486 742.8,488 743.7,489.7 744.6,490.9 745.5,491 746.4,491 747.3,491.1 748.2,492.5 749.1,495.4 750,498.5 750.9,502.5 751.8,506.6 752.7,511.4 753.6,518.1 754.5,525 755.4,531.7 756.4,538.8 757.3,548 758.2,556.7 759.1,563.3 760,570.2 760.9,576.5 761.8,581.3 762.7,584.8 763.6,588.5 764.5,591.6 765.4,593.1 766.3,594 767.2,593.6 768.1,591.5 769.1,588.3 770,582.6 770.9,576.4 771.8,567.7 772.7,556.9 773.6,545.4 774.5,533.9 775.4,525.4 776.3,518.1 777.2,509.3 778.1,501.5 779,491.8 779.9,474.3 780.8,460.3 781.7,456.3 782.7,470.3 783.6,488.1 784.5,477 785.4,472.6 786.3,475.8 787.2,481.7 788.1,487.3 789,489.3 789.9,492.1 790.8,497.8 791.7,504.3 792.6,511.2 793.5,517.9 794.4,523.5 795.3,529.1 796.3,535.4 797.2,542.3 798.1,549.1 799,554.7 799.9,561.1 800.8,568 801.7,574.9 802.6,582.4 803.5,589.6 804.4,596.1 805.3,600.6 806.2,603.5 807.1,605.5 808,607.1 808.9,607.6 809.9,606.6 810.8,604.5 811.7,600.6 812.6,595 813.5,588.7 814.4,582 815.3,572.3 816.2,561.6 817.1,551 818,540.4 818.9,529.9 819.8,519.3 820.7,508.6 821.6,502.8 822.6,497.2 823.5,491.9 824.4,487.4 825.3,483.5 826.2,480.9 827.1,481.1 828,481.8 828.9,482.6 829.8,483.8 830.7,485 831.6,486 832.5,486.9 833.4,487.7 834.3,488.4 835.2,489.2 836.2,491 837.1,494.4 838,497.8 838.9,501.6 839.8,506.1 840.7,511.2 841.6,517 842.5,522.6 843.4,529.4 844.3,536.1 845.2,543.5 846.1,552 847,559.9 847.9,567.9 848.8,575.2 849.8,580.8 850.7,585.2 851.6,589 852.5,591.8 853.4,593.4 854.3,594.6 855.2,595 856.1,593.9 857,591.6 857.9,588.1 858.8,581.7 859.7,573.2 860.6,561.9 861.5,549.3 862.5,541 863.4,535.2 864.3,528.9 865.2,514.2 866.1,497.7 867,482.3 867.9,474.1 868.8,479.4 869.7,483.9 870.6,482.3 871.5,473.6 872.4,474.3 873.3,475 874.2,473.3 875.1,470.4 876.1,473.6 877,487.6 877.9,495.3 878.8,498.6 879.7,500.5 880.6,502.6 881.5,506.4 882.4,513.5 883.3,524 884.2,533.5 885.1,542.5 886,551.5 886.9,561.9 887.8,571.2 888.7,580.4 889.7,587.7 890.6,594.3 891.5,599.9 892.4,604.2 893.3,606.9 894.2,608.8 895.1,609 896,608.3 896.9,607.2 897.8,605.4 898.7,602.7 899.6,598.1 900.5,592.6 901.4,584.2 902.4,573.2 903.3,562.5 904.2,552.8 905.1,543.9 906,533.8 906.9,524.2 907.8,515.1 908.7,507.2 909.6,499.7 910.5,491.9 911.4,486.3 912.3,483.4 913.2,482.6 914.1,482 915,481.1 916,480 916.9,478.6 917.8,475.8 918.7,473.6 919.6,474.1 920.5,475.4 921.4,477.2 922.3,480.1 923.2,482.9 924.1,486 925,489.1 925.9,494.5 926.8,503.2 927.7,512.3 928.6,521.4 929.6,530.4 930.5,540.5 931.4,552.3 932.3,564.4 933.2,576.7 934.1,586.2 935,594.3 935.9,599.2 936.8,602.2 937.7,603.6 938.6,604.6 939.5,604.5 940.4,602.6 941.3,598.7 942.2,591.8 943.2,584.4 944.1,575.4 945,566.3 945.9,555.7 946.8,545.1 947.7,534.7 948.6,525.9 949.5,518.5 950.4,510.6 951.3,501.5 952.2,491.1 953.1,477 954,467.8 954.9,472.8 955.9,481.6 956.8,487.8 957.7,481.3 958.6,475.6 959.5,473.6 960.4,474.1 961.3,475.2 962.2,480.2 963.1,487.7 964,496.2 964.9,499.5 965.8,502 966.7,504.7 967.6,508.7 968.5,514.7 969.5,521.5 970.4,528.9 971.3,536.4 972.2,545.3 973.1,554.4 974,563.5 974.9,572.5 975.8,579.4 976.7,586.4 977.6,593.2 978.5,599 979.4,602.8 980.3,605.5 981.2,607.3 982.1,608.4 983.1,608.2 984,606.7 984.9,604.4 985.8,600.4 986.7,596.7 987.6,592.7 988.5,586.5 989.4,577 990.3,567.9 991.2,558.7 992.1,550.4 993,542.3 993.9,532.1 994.8,524.1 995.8,517.3 996.7,509.7 997.6,502 998.5,495.4 999.4,491.2 1000.3,488.6 1001.2,486.3 1002.1,484.1 1003,481.7 1003.9,479.1 1004.8,475.3 1005.7,470.2 1006.6,467.8 1007.5,469.8 1008.4,473.1 1009.4,475.5 1010.3,477.7 1011.2,480.2 1012.1,483.7 1013,489.7 1013.9,494.4 1014.8,496.9" fill="none" stroke="#2c77d1" stroke-width="1.5" stroke-linejoin="round" marker-start="url(#m)" marker-mid="url(#m)" marker-end="url(#m)"/>
</svg>

</div></div>
<div class="lt" id="lt1"></div><div class="lt" id="lt2"></div><div class="lt" id="lt3"></div>
</body></html>
